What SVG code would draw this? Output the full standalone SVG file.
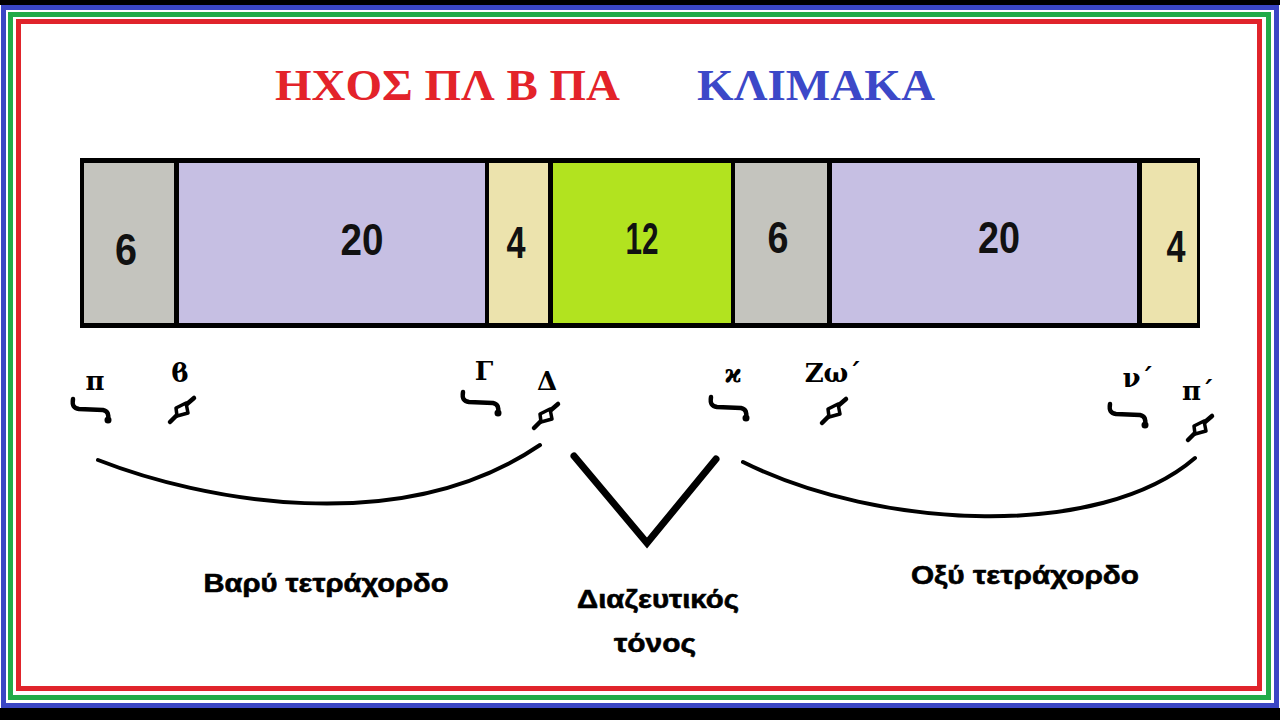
<svg xmlns="http://www.w3.org/2000/svg" width="1280" height="720" viewBox="0 0 1280 720">
<defs>
<style>
.seg{stroke:none}
.num{font-family:"Liberation Sans",Arial,sans-serif;font-weight:bold;font-size:44px;fill:#111;text-anchor:middle}
.note{font-family:"DejaVu Serif","Liberation Serif",serif;font-weight:bold;font-size:26px;fill:#000;text-anchor:middle}
.lbl{font-family:"Liberation Sans",Arial,sans-serif;font-weight:bold;font-size:26px;fill:#000;text-anchor:middle;stroke:#000;stroke-width:0.6}
.curve{fill:none;stroke:#000;stroke-linecap:round}
.neume{fill:none;stroke:#000;stroke-width:4.5;stroke-linecap:round;stroke-linejoin:round}
</style>
<g id="hook">
<path class="neume" d="M0,0 C-1,6 0,9 6,10 L30,11 C35,12 36,16 35,21"/>
<circle cx="35" cy="21" r="3.5" fill="#000"/>
</g>
<g id="slash">
<path class="neume" stroke-width="3.5" d="M-12,12 L-5,5 M5,-6 L12,-12"/>
<path fill="#fff" stroke="#000" stroke-width="3.5" stroke-linejoin="round" d="M-6,-2 L4,-7 L6,3 L-5,6 Z"/>
</g>
</defs>
<rect width="1280" height="720" fill="#fff"/>
<rect x="0" y="0" width="1280" height="5" fill="#000"/>
<rect x="0" y="708" width="1280" height="12" fill="#000"/>
<rect x="3.5" y="7.5" width="1273" height="698" fill="none" stroke="#3a46c4" stroke-width="5"/>
<rect x="10.5" y="14.5" width="1258" height="683" fill="none" stroke="#22ab48" stroke-width="5"/>
<rect x="18.5" y="21.5" width="1241" height="667" fill="none" stroke="#e0242b" stroke-width="5"/>

<g id="title">
<text x="275" y="100" font-family="'Liberation Serif','Times New Roman',serif" font-weight="bold" font-size="45" fill="#e3232a" textLength="345" lengthAdjust="spacingAndGlyphs">ΗΧΟΣ ΠΛ Β ΠΑ</text>
<text x="697" y="100" font-family="'Liberation Serif','Times New Roman',serif" font-weight="bold" font-size="45" fill="#3c48c8" textLength="238" lengthAdjust="spacingAndGlyphs">ΚΛΙΜΑΚΑ</text>
</g>

<g id="scale-bar">
<rect x="80" y="158" width="1120" height="170" fill="#000"/>
<g id="seg1"><rect class="seg" x="84" y="163" width="90" height="160" fill="#c4c4be"/><text class="num" x="126" y="265" textLength="22" lengthAdjust="spacingAndGlyphs">6</text></g>
<g id="seg2"><rect class="seg" x="179" y="163" width="306" height="160" fill="#c6bfe3"/><text class="num" x="362" y="255" textLength="43" lengthAdjust="spacingAndGlyphs">20</text></g>
<g id="seg3"><rect class="seg" x="489" y="163" width="59" height="160" fill="#ece3ad"/><text class="num" x="516" y="258" textLength="19" lengthAdjust="spacingAndGlyphs">4</text></g>
<g id="seg4"><rect class="seg" x="553" y="163" width="178" height="160" fill="#b2e31f"/><text class="num" x="642" y="254" textLength="33" lengthAdjust="spacingAndGlyphs">12</text></g>
<g id="seg5"><rect class="seg" x="735" y="163" width="92" height="160" fill="#c4c4be"/><text class="num" x="778" y="253" textLength="21" lengthAdjust="spacingAndGlyphs">6</text></g>
<g id="seg6"><rect class="seg" x="832" y="163" width="305" height="160" fill="#c6bfe3"/><text class="num" x="999" y="253" textLength="42" lengthAdjust="spacingAndGlyphs">20</text></g>
<g id="seg7"><rect class="seg" x="1142" y="163" width="55" height="160" fill="#ece3ad"/><text class="num" x="1176" y="262" textLength="19" lengthAdjust="spacingAndGlyphs">4</text></g>
</g>

<g id="notes">
<g id="n-pa"><text class="note" x="95" y="390">π</text><use href="#hook" x="73" y="399"/></g>
<g id="n-vou"><text class="note" x="180" y="382">ϐ</text><use href="#slash" x="182" y="410"/></g>
<g id="n-ga"><text class="note" x="484" y="380">Γ</text><use href="#hook" x="463" y="392"/></g>
<g id="n-di"><text class="note" x="547" y="390">Δ</text><use href="#slash" x="546" y="416"/></g>
<g id="n-ke"><text class="note" x="733" y="382">ϰ</text><use href="#hook" x="711" y="397"/></g>
<g id="n-zo"><text class="note" x="833" y="382">Ζω΄</text><use href="#slash" x="834" y="411"/></g>
<g id="n-ni"><text class="note" x="1138" y="387">ν΄</text><use href="#hook" x="1110" y="404"/></g>
<g id="n-pa2"><text class="note" x="1198" y="400">π΄</text><use href="#slash" x="1200" y="428"/></g>
</g>

<g id="connectors">
<path class="curve" stroke-width="4" d="M98,460 C200,500 400,540 540,445"/>
<path class="curve" stroke-width="7" stroke-linejoin="miter" d="M574,456 L647,543 L716,459"/>
<path class="curve" stroke-width="4" d="M743,462 C880,530 1100,540 1195,458"/>
</g>

<g id="labels">
<text class="lbl" x="326" y="592" textLength="245" lengthAdjust="spacingAndGlyphs">Βαρύ τετράχορδο</text>
<text class="lbl" x="658" y="608" textLength="162" lengthAdjust="spacingAndGlyphs">Διαζευτικός</text>
<text class="lbl" x="655" y="652" textLength="82" lengthAdjust="spacingAndGlyphs">τόνος</text>
<text class="lbl" x="1025" y="584" textLength="228" lengthAdjust="spacingAndGlyphs">Οξύ τετράχορδο</text>
</g>
</svg>
